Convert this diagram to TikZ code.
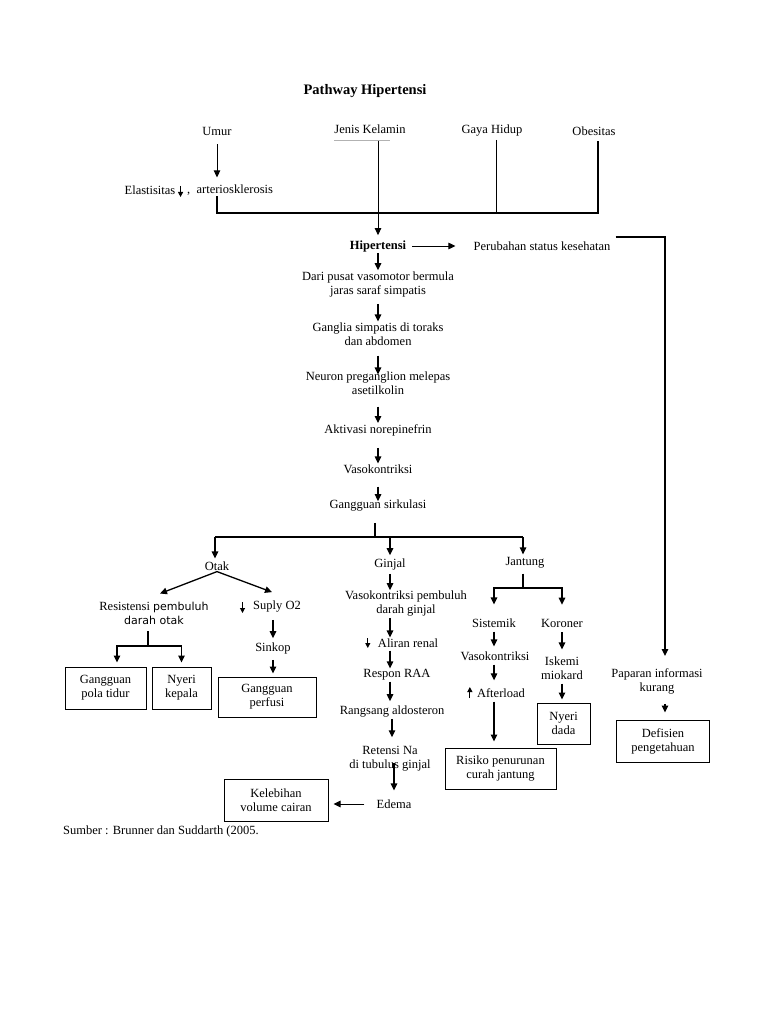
\documentclass[tikz,border=0pt]{standalone}
\usepackage{fontspec}
\setmainfont{Liberation Serif}
\newfontfamily\otakfont{DejaVu Sans}
\usetikzlibrary{arrows.meta,calc}

\begin{document}
\begin{tikzpicture}[x=1pt, y=-1pt, every node/.style={font=\fontsize{12.5}{14}\selectfont, align=center, inner sep=1pt},
  kotak/.style={draw, line width=1pt, inner sep=0pt},
  arr/.style={-{Triangle[length=7pt,width=6.5pt]}, line width=1.3pt},
  arrkecil/.style={-{Triangle[length=5pt,width=5pt]}, line width=1pt},
  garis/.style={line width=0.8pt},
  garistebal/.style={line width=1.4pt}]
  \useasboundingbox (0,0) rectangle (768,1024);
  \node[font=\fontsize{14.5}{16}\selectfont\bfseries] (judul) at (365,91) {Pathway Hipertensi};
  % Faktor risiko
  \node (um) at (217,131) {Umur};
  \node (jk) at (370,129) {Jenis Kelamin};
  \node (gh) at (492,131) {Gaya Hidup};
  \node (ob) at (594,131) {Obesitas};
  \node (el) at (150,190) {Elastisitas};
  \node[anchor=west] (ar) at (186,190) {,\ \ arteriosklerosis};
  \coordinate (hl) at (0,213);
  \draw[arr, line width=1pt, shorten <=8pt, shorten >=7pt] (um.south) -- (um |- el.north);
  \draw[arrkecil] ($(el.east)+(4,-4)$) -- ++(0,11);
  \draw[garistebal] (um |- ar.south) -- (um |- hl) -- ($(ob |- hl)+(4,0)$) -- ($(ob.south)+(4,4)$);
  \draw[garis] ($(gh.south)+(4,2)$) -- ($(gh |- hl)+(4,0)$);
  \draw[gray!60, line width=0.6pt] ($(jk.south west)+(1,6)$) -- ++(56,0);
  \node[font=\fontsize{12.5}{14}\selectfont\bfseries] (hip) at (378,246) {Hipertensi};
  \draw[arr, line width=1pt, shorten <=6pt, shorten >=4pt] (hip.north |- jk.south) -- (hip.north);
  \node (per) at (542,246) {Perubahan status kesehatan};
  \draw[arr, line width=1pt, shorten <=5pt, shorten >=17pt] (hip.east) -- (per.west);
  % Jalur kanan
  \node (pap) at (657,681) {Paparan informasi\\kurang};
  \node[kotak, minimum width=93pt, minimum height=42pt] (def) at (663,741) {Defisien\\pengetahuan};
  \draw[arr, shorten >=11pt] ($(per.east)+(4,-9)$) -| ($(pap.north)+(8,0)$);
  \draw[arr, shorten <=9pt, shorten >=7pt] ($(pap.south)+(8,0)$) -- ($(def.north)+(2,0)$);
  % Jalur utama
  \node (pus) at (378,284) {Dari pusat vasomotor bermula\\jaras saraf simpatis};
  \node (gsp) at (378,334) {Ganglia simpatis di toraks\\dan abdomen};
  \node (neu) at (378,383) {Neuron preganglion melepas\\asetilkolin};
  \node (akt) at (378,430) {Aktivasi norepinefrin};
  \node (vas) at (378,469) {Vasokontriksi};
  \node (gsk) at (378,506) {Gangguan sirkulasi};
  \draw[arr] (hip.south) -- (pus.north);
  \draw[arr, shorten <=6pt] (pus.south) -- (gsp.north);
  \draw[arr, shorten <=9pt, shorten >=-4pt] (gsp.south) -- (neu.north);
  \draw[arr, shorten <=11pt] (neu.south) -- (akt.north);
  \draw[arr, shorten <=11pt] (akt.south) -- (vas.north);
  \draw[arr, shorten <=12pt, shorten >=-2pt] (vas.south) -- (gsk.north);
  \coordinate (br) at (375,537);
  \draw[garistebal, shorten <=10pt] (gsk.south -| br) -- (br);
  % Cabang organ
  \node (ot) at (217,566) {Otak};
  \node (gj) at (390,564) {Ginjal};
  \node (jt) at (525,563) {Jantung};
  \draw[garistebal] ($(ot |- br)+(-2,0)$) -- ($(jt |- br)+(-2,0)$);
  \draw[arr, shorten >=2pt] ($(ot |- br)+(-2,0)$) -- ($(ot.north)+(-2,0)$);
  \draw[arr, shorten >=2pt] (gj |- br) -- (gj.north);
  \draw[arr, shorten >=2pt] ($(jt |- br)+(-2,0)$) -- ($(jt.north)+(-2,0)$);
  % Otak
  \node (res) at (154,613) {Resistensi {\otakfont\fontsize{11}{14}\selectfont pembuluh}\\{\otakfont\fontsize{11}{14}\selectfont darah otak}};
  \node (sup) at (277,607) {Suply O2};
  \node (sin) at (273,648) {Sinkop};
  \node[kotak, minimum width=81pt, minimum height=42pt] (gpt) at (105.5,688) {Gangguan\\pola tidur};
  \node[kotak, minimum width=59pt, minimum height=42pt] (nk) at (181.5,688) {Nyeri\\kepala};
  \node[kotak, minimum width=98pt, minimum height=40pt] (gpf) at (267,697) {Gangguan\\perfusi};
  \draw[arr] (ot.south) -- ($(res.north)+(6,-7)$);
  \draw[arr] (ot.south) -- ($(sup.north)+(-5,-8)$);
  \draw[arrkecil] ($(sup.west)+(-9.5,-5)$) -- ++(0,11);
  \draw[arr, shorten <=6pt, shorten >=3pt] (sin.north |- sup.south) -- (sin.north);
  \draw[arr, shorten <=5pt, shorten >=3pt] (sin.south) -- (sin.south |- gpf.north);
  \coordinate (rbr) at (148,646);
  \draw[garistebal, shorten <=6pt] (rbr |- res.south) -- (rbr);
  \draw[arr, shorten >=4pt] (rbr) -| ($(gpt.north)+(11.5,0)$);
  \draw[arr, shorten >=4pt] (rbr) -| (nk.north);
  % Ginjal
  \node (vpg) at (406,604) {Vasokontriksi pembuluh\\darah ginjal};
  \node (alr) at (408,643) {Aliran renal};
  \node (raa) at (397,675) {Respon RAA};
  \node (ral) at (392,712) {Rangsang aldosteron};
  \node (ret) at (390,759) {Retensi Na\\di tubulus ginjal};
  \node (ed) at (394,804) {Edema};
  \node[kotak, minimum width=104pt, minimum height=42pt] (kvc) at (276,800) {Kelebihan\\volume cairan};
  \draw[arr, shorten <=3pt] (gj.south) -- (gj.south |- vpg.north);
  \draw[arr] (gj |- vpg.south) -- (gj |- alr.north);
  \draw[arrkecil] ($(alr.west)+(-9,-5)$) -- ++(0,10);
  \draw[arr, shorten <=2pt] (gj |- alr.south) -- (gj |- raa.north);
  \draw[arr, shorten >=4pt] (gj |- raa.south) -- (gj |- ral.north);
  \draw[arr, shorten >=8pt] (ral.south) -- (ral.south |- ret.north);
  \draw[arr, shorten <=-10pt, shorten >=8pt] (ed.north |- ret.south) -- (ed.north);
  \draw[arr, line width=1pt, shorten <=11pt, shorten >=5pt] (ed.west) -- (kvc.east |- ed.west);
  % Jantung
  \coordinate (jbr) at (523,588);
  \node (sis) at (494,623) {Sistemik};
  \node (kor) at (562,623) {Koroner};
  \node (vsk) at (495,656) {Vasokontriksi};
  \node (aft) at (501,693) {Afterload};
  \node (isk) at (562,668) {Iskemi\\miokard};
  \node[kotak, minimum width=111pt, minimum height=41pt] (rpc) at (500.5,768.5) {Risiko penurunan\\curah jantung};
  \node[kotak, minimum width=53pt, minimum height=41pt] (nyd) at (563.5,723.5) {Nyeri\\dada};
  \draw[garistebal, shorten <=4pt] (jt.south -| jbr) -- (jbr);
  \draw[arr, shorten >=13pt] (jbr) -| (sis.north);
  \draw[arr, shorten >=13pt] (jbr) -| (kor.north);
  \draw[arr, shorten <=3pt, shorten >=4pt] (sis.south) -- (sis.south |- vsk.north);
  \draw[arr, shorten <=3pt, shorten >=7pt] (sis |- vsk.south) -- (sis |- aft.north);
  \draw[arrkecil] ($(aft.west)+(-6,5)$) -- ++(0,-11);
  \draw[arr, shorten <=3pt, shorten >=6pt] (sis |- aft.south) -- (sis |- rpc.north);
  \draw[arr, shorten <=4pt, shorten >=6pt] (kor.south) -- (isk.north);
  \draw[arr, shorten <=3pt, shorten >=3pt] (isk.south) -- (isk.south |- nyd.north);
  % Sumber
  \node[anchor=west] (src) at (62,831) {Sumber : Brunner dan Suddarth (2005.};
\end{tikzpicture}
\end{document}
